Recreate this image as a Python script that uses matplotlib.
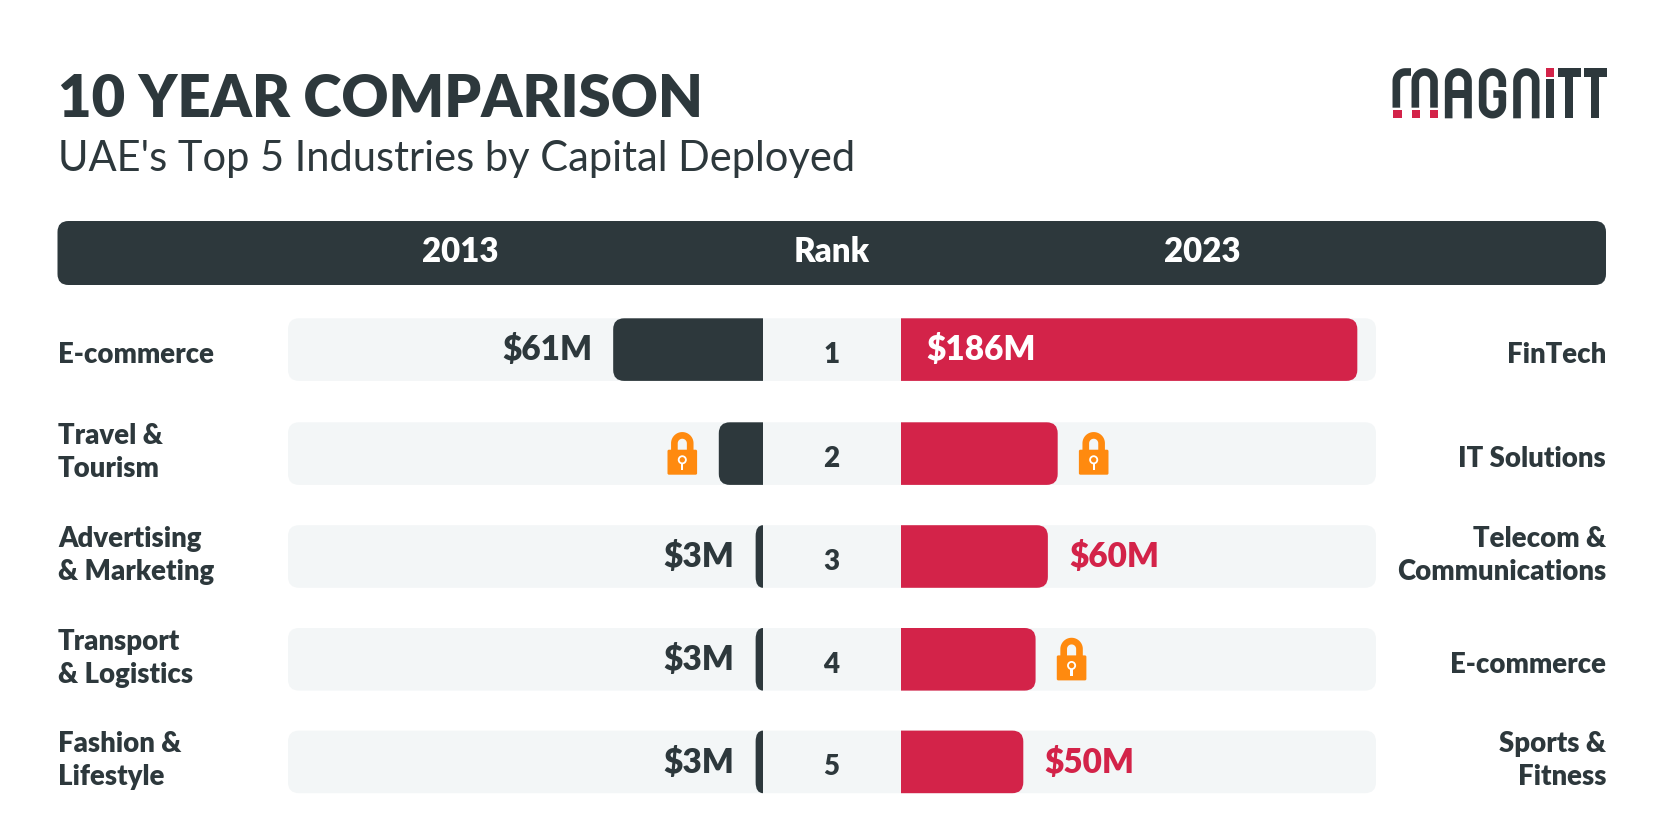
import numpy as np
import matplotlib
matplotlib.use('Agg')
import matplotlib.pyplot as plt
from matplotlib.path import Path
from matplotlib.patches import PathPatch, FancyBboxPatch, Rectangle, Circle

plt.rcParams['font.family'] = ['Lato', 'DejaVu Sans']

# chart values, $M. labels are None where the figure is locked in the source
ranks = [1, 2, 3, 4, 5]
industries_2013 = ['E-commerce', 'Travel &\nTourism', 'Advertising\n& Marketing', 'Transport\n& Logistics', 'Fashion &\nLifestyle']
values_2013 = [61, 18, 3, 3, 3]
labels_2013 = ['$61M', None, '$3M', '$3M', '$3M']
industries_2023 = ['FinTech', 'IT Solutions', 'Telecom &\nCommunications', 'E-commerce', 'Sports &\nFitness']
values_2023 = [186, 64, 60, 55, 50]
labels_2023 = ['$186M', None, '$60M', None, '$50M']

DARK = '#2D383C'
RED = '#D32349'
TRACK = '#F3F6F7'
ORANGE = '#FF8A0F'

W, H = 1667, 833
PX_PER_M = 2.456          # bar scale, pixels per $M
ROW_TOPS = [318.3, 422.3, 525.2, 628, 730.6]
ROW_H = 62.6
LEFT_ZERO, RIGHT_ZERO = 763, 900.5
TRACK_L, TRACK_R = 288, 1376

fig = plt.figure(figsize=(W / 100, H / 100), dpi=100, facecolor='white')

# background axes in pixels, for the header, tracks, texts and icons
ax = fig.add_axes([0, 0, 1, 1])
ax.set_xlim(0, W)
ax.set_ylim(H, 0)
ax.axis('off')


def value_axes(x_left, x_right, xlim):
    a = fig.add_axes([x_left / W, 0, (x_right - x_left) / W, 1])
    a.set_xlim(*xlim)
    a.set_ylim(H, 0)
    a.axis('off')
    return a


# the two bar axes run in $M away from the rank column
ax_2013 = value_axes(TRACK_L, LEFT_ZERO, ((LEFT_ZERO - TRACK_L) / PX_PER_M, 0))
ax_2023 = value_axes(RIGHT_ZERO, TRACK_R, (0, (TRACK_R - RIGHT_ZERO) / PX_PER_M))


def rounded_bar(a, value, top, color, radius=11):
    # only the outer end of the bar is rounded
    rx = min(radius, value * PX_PER_M) / PX_PER_M
    ry = radius
    bottom = top + ROW_H
    verts = [(0, top), (value - rx, top), (value, top), (value, top + ry),
             (value, bottom - ry), (value, bottom), (value - rx, bottom), (0, bottom), (0, top)]
    codes = [Path.MOVETO, Path.LINETO, Path.CURVE3, Path.CURVE3,
             Path.LINETO, Path.CURVE3, Path.CURVE3, Path.LINETO, Path.CLOSEPOLY]
    a.add_patch(PathPatch(Path(verts, codes), facecolor=color, edgecolor='none'))


def round_box(x0, y0, x1, y1, color, r):
    ax.add_patch(FancyBboxPatch((x0, y0), x1 - x0, y1 - y0, boxstyle='round,pad=0,rounding_size=%g' % r,
                                facecolor=color, edgecolor='none', zorder=1))


def lock(cx, top):
    # padlock icon, top is the top of the row
    arch_t = np.linspace(np.pi, 0, 40)
    xs = cx + 7.9 * np.cos(arch_t)
    ys = top + 21 - 7.9 * np.sin(arch_t)
    ax.plot(np.r_[cx - 7.9, xs, cx + 7.9], np.r_[top + 29, ys, top + 29], color=ORANGE,
            lw=4.8, solid_capstyle='butt', zorder=3)
    round_box(cx - 14.8, top + 27.4, cx + 14.8, top + 52.4, ORANGE, 1.5)
    ax.patches[-1].set_zorder(4)
    ax.add_patch(Circle((cx, top + 37.5), 3.6, facecolor=ORANGE, edgecolor='white', lw=1.3, zorder=5))
    ax.add_patch(Rectangle((cx - 1.1, top + 41), 2.2, 6.5, facecolor='white', edgecolor='none', zorder=5))


def two_line_label(x, top, text, ha):
    lines = text.split('\n')
    baselines = [44.8] if len(lines) == 1 else [21.6, 54.6]
    for line, offset in zip(lines, baselines):
        ax.text(x, top + offset, line, ha=ha, va='baseline', fontsize=19.8, fontweight=800, color=DARK, zorder=6)


# title block
ax.text(57.5, 117, '10 YEAR COMPARISON', fontsize=41.8, fontweight=800, color=DARK, va='baseline', ha='left')
ax.text(58.5, 170.7, "UAE's Top 5 Industries by Capital Deployed", fontsize=30, fontweight=400, color=DARK,
        va='baseline', ha='left')

# header band
round_box(57.5, 221, 1606, 285, DARK, 11)
for x, text in [(460, '2013'), (831.5, 'Rank'), (1202.5, '2023')]:
    ax.text(x, 261.7, text, ha='center', va='baseline', fontsize=23.8, fontweight=800, color='white', zorder=6)

# rows
for i, top in enumerate(ROW_TOPS):
    round_box(TRACK_L, top, TRACK_R, top + ROW_H, TRACK, 11)
    ax.text(831.5, top + 44.6, str(ranks[i]), ha='center', va='baseline', fontsize=20, fontweight=800,
            color=DARK, zorder=6)
    two_line_label(58, top, industries_2013[i], 'left')
    two_line_label(1606, top, industries_2023[i], 'right')

    rounded_bar(ax_2013, values_2013[i], top, DARK)
    rounded_bar(ax_2023, values_2023[i], top, RED)

    if labels_2013[i] is None:
        lock(LEFT_ZERO - values_2013[i] * PX_PER_M - 36.5, top)
    else:
        ax_2013.annotate(labels_2013[i], (values_2013[i], top + 42), xytext=(-21 * 0.72, 0),
                         textcoords='offset points', ha='right', va='baseline', fontsize=24,
                         fontweight=800, color=DARK)

    if labels_2023[i] is None:
        lock(RIGHT_ZERO + values_2023[i] * PX_PER_M + 36, top)
    elif values_2023[i] > 100:
        # long bar, the label sits inside it
        ax_2023.annotate(labels_2023[i], (0, top + 42), xytext=(26 * 0.72, 0), textcoords='offset points',
                         ha='left', va='baseline', fontsize=24, fontweight=800, color='white')
    else:
        ax_2023.annotate(labels_2023[i], (values_2023[i], top + 42), xytext=(21 * 0.72, 0),
                         textcoords='offset points', ha='left', va='baseline', fontsize=24,
                         fontweight=800, color=RED)


# logo, traced in crop units of 1/3 pixel from (1380, 55)
def lx(v):
    return 1380 + np.asarray(v, dtype=float) / 3


def ly(v):
    return 55 + np.asarray(v, dtype=float) / 3


def stroke(xs, ys):
    ax.plot(lx(xs), ly(ys), color=DARK, lw=5.5, solid_capstyle='butt', solid_joinstyle='round', zorder=6)


def arc_pts(x0, x1, y_top, flip=False):
    t = np.linspace(np.pi, 0, 30)
    r = (x1 - x0) / 2
    xs = (x0 + x1) / 2 + r * np.cos(t)
    ys = y_top + r - r * np.sin(t)
    if flip:
        ys = y_top - r + r * np.sin(t)
    return xs, ys


def arch(x0, x1, y_end):
    xs, ys = arc_pts(x0, x1, 51)
    stroke(np.r_[x0, xs, x1], np.r_[y_end, ys, y_end])


def block(x0, y0, x1, y1, color=DARK):
    ax.add_patch(Rectangle((lx(x0), ly(y0)), (x1 - x0) / 3, (y1 - y0) / 3, facecolor=color, edgecolor='none', zorder=6))


q = np.linspace(np.pi, np.pi / 2, 15)
stroke(np.r_[49, 76 + 27 * np.cos(q), 93], np.r_[158, 78 - 27 * np.sin(q), 51])
arch(106, 162, 158)
arch(206, 264, 190)
block(206, 105, 264, 130)
gx_top, gy_top = arc_pts(308, 367, 51)
gx_bot, gy_bot = arc_pts(308, 367, 179, flip=True)
stroke(np.r_[367, gx_top[::-1], gx_bot, 367, 340], np.r_[96, gy_top[::-1], gy_bot, 117, 117])
arch(411, 467, 190)
block(498, 72, 522, 190)
block(533, 40, 602, 65)
block(556, 65, 580, 190)
block(612, 40, 680, 65)
block(634, 65, 658, 190)
block(498, 40, 522, 65, RED)
for x0, x1 in [(38, 65), (95, 120), (150, 175)]:
    block(x0, 166, x1, 190, RED)

fig.savefig('out.png', dpi=100, facecolor='white')
